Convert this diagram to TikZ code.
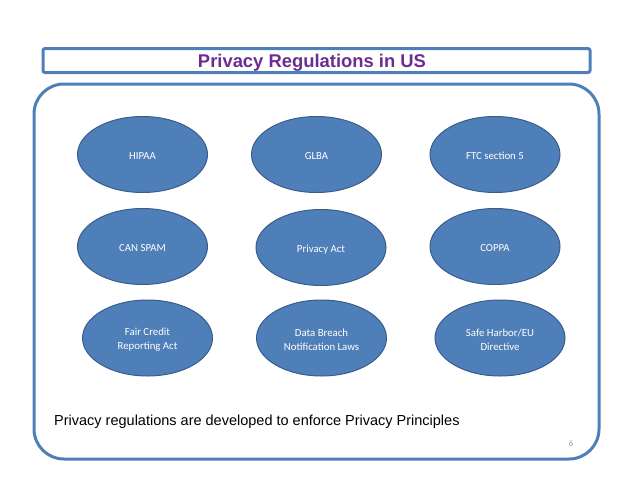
\documentclass[tikz,border=0pt]{standalone}
\usepackage{xcolor}
\usepackage{fontspec}
\usepackage{tikz}
\setmainfont{Liberation Sans}
\newfontfamily\ovalfont{Carlito}
\newcommand{\ovalstrut}{\rule{0pt}{11.5pt}}
\definecolor{frameblue}{HTML}{4F7FB8}
\definecolor{ovalline}{HTML}{385D8A}
\definecolor{titlepurple}{HTML}{6B2D90}
\tikzset{
  oval/.style={draw=ovalline,line width=1pt,fill=frameblue,ellipse,minimum width=130pt,minimum height=76pt,inner sep=0pt,align=center,text=white,font=\ovalfont\fontsize{10.8}{14}\selectfont,execute at begin node={\rule[-1pt]{0pt}{12pt}}},
  framebox/.style={draw=frameblue,line width=3pt}
}
\usetikzlibrary{shapes.geometric}
\begin{document}
\begin{tikzpicture}[x=1pt,y=-1pt]
\useasboundingbox (0,0) rectangle (638,493);
\node[framebox,rectangle,rounded corners=2pt,minimum width=547pt,minimum height=24pt,inner sep=0pt] (titlebox) at (316.5,60.5) {};
\node[text=titlepurple,font=\bfseries\fontsize{18.4}{22}\selectfont] (title) at (312,62.5) {Privacy Regulations in US};
\node[framebox,rectangle,rounded corners=30pt,minimum width=565pt,minimum height=375pt,inner sep=0pt] (panel) at (316.5,271.5) {};
\node[oval] (hipaa) at (142.5,154.5) {HIPAA};
\node[oval] (glba) at (316.5,154.5) {GLBA};
\node[oval] (ftc) at (495,154.5) {FTC section 5};
\node[oval] (canspam) at (142.5,246.5) {CAN SPAM};
\node[oval] (privacyact) at (321,247.5) {Privacy Act};
\node[oval] (coppa) at (495,246.5) {COPPA};
\node[oval] (fcra) at (147.5,338) {\ovalstrut Fair Credit\\Reporting Act};
\node[oval] (breach) at (321.5,338) {\ovalstrut Data Breach\\Notification Laws};
\node[oval] (safeharbor) at (500,338) {\ovalstrut Safe Harbor/EU\\Directive};
\node[anchor=base west,inner sep=0pt,font=\fontsize{14.5}{17}\selectfont] (note) at (54,425) {Privacy regulations are developed to enforce Privacy Principles};
\node[text=gray!85,font=\ovalfont\fontsize{8.5}{10}\selectfont] (pagenum) at (571,443.5) {6};
\end{tikzpicture}
\end{document}
